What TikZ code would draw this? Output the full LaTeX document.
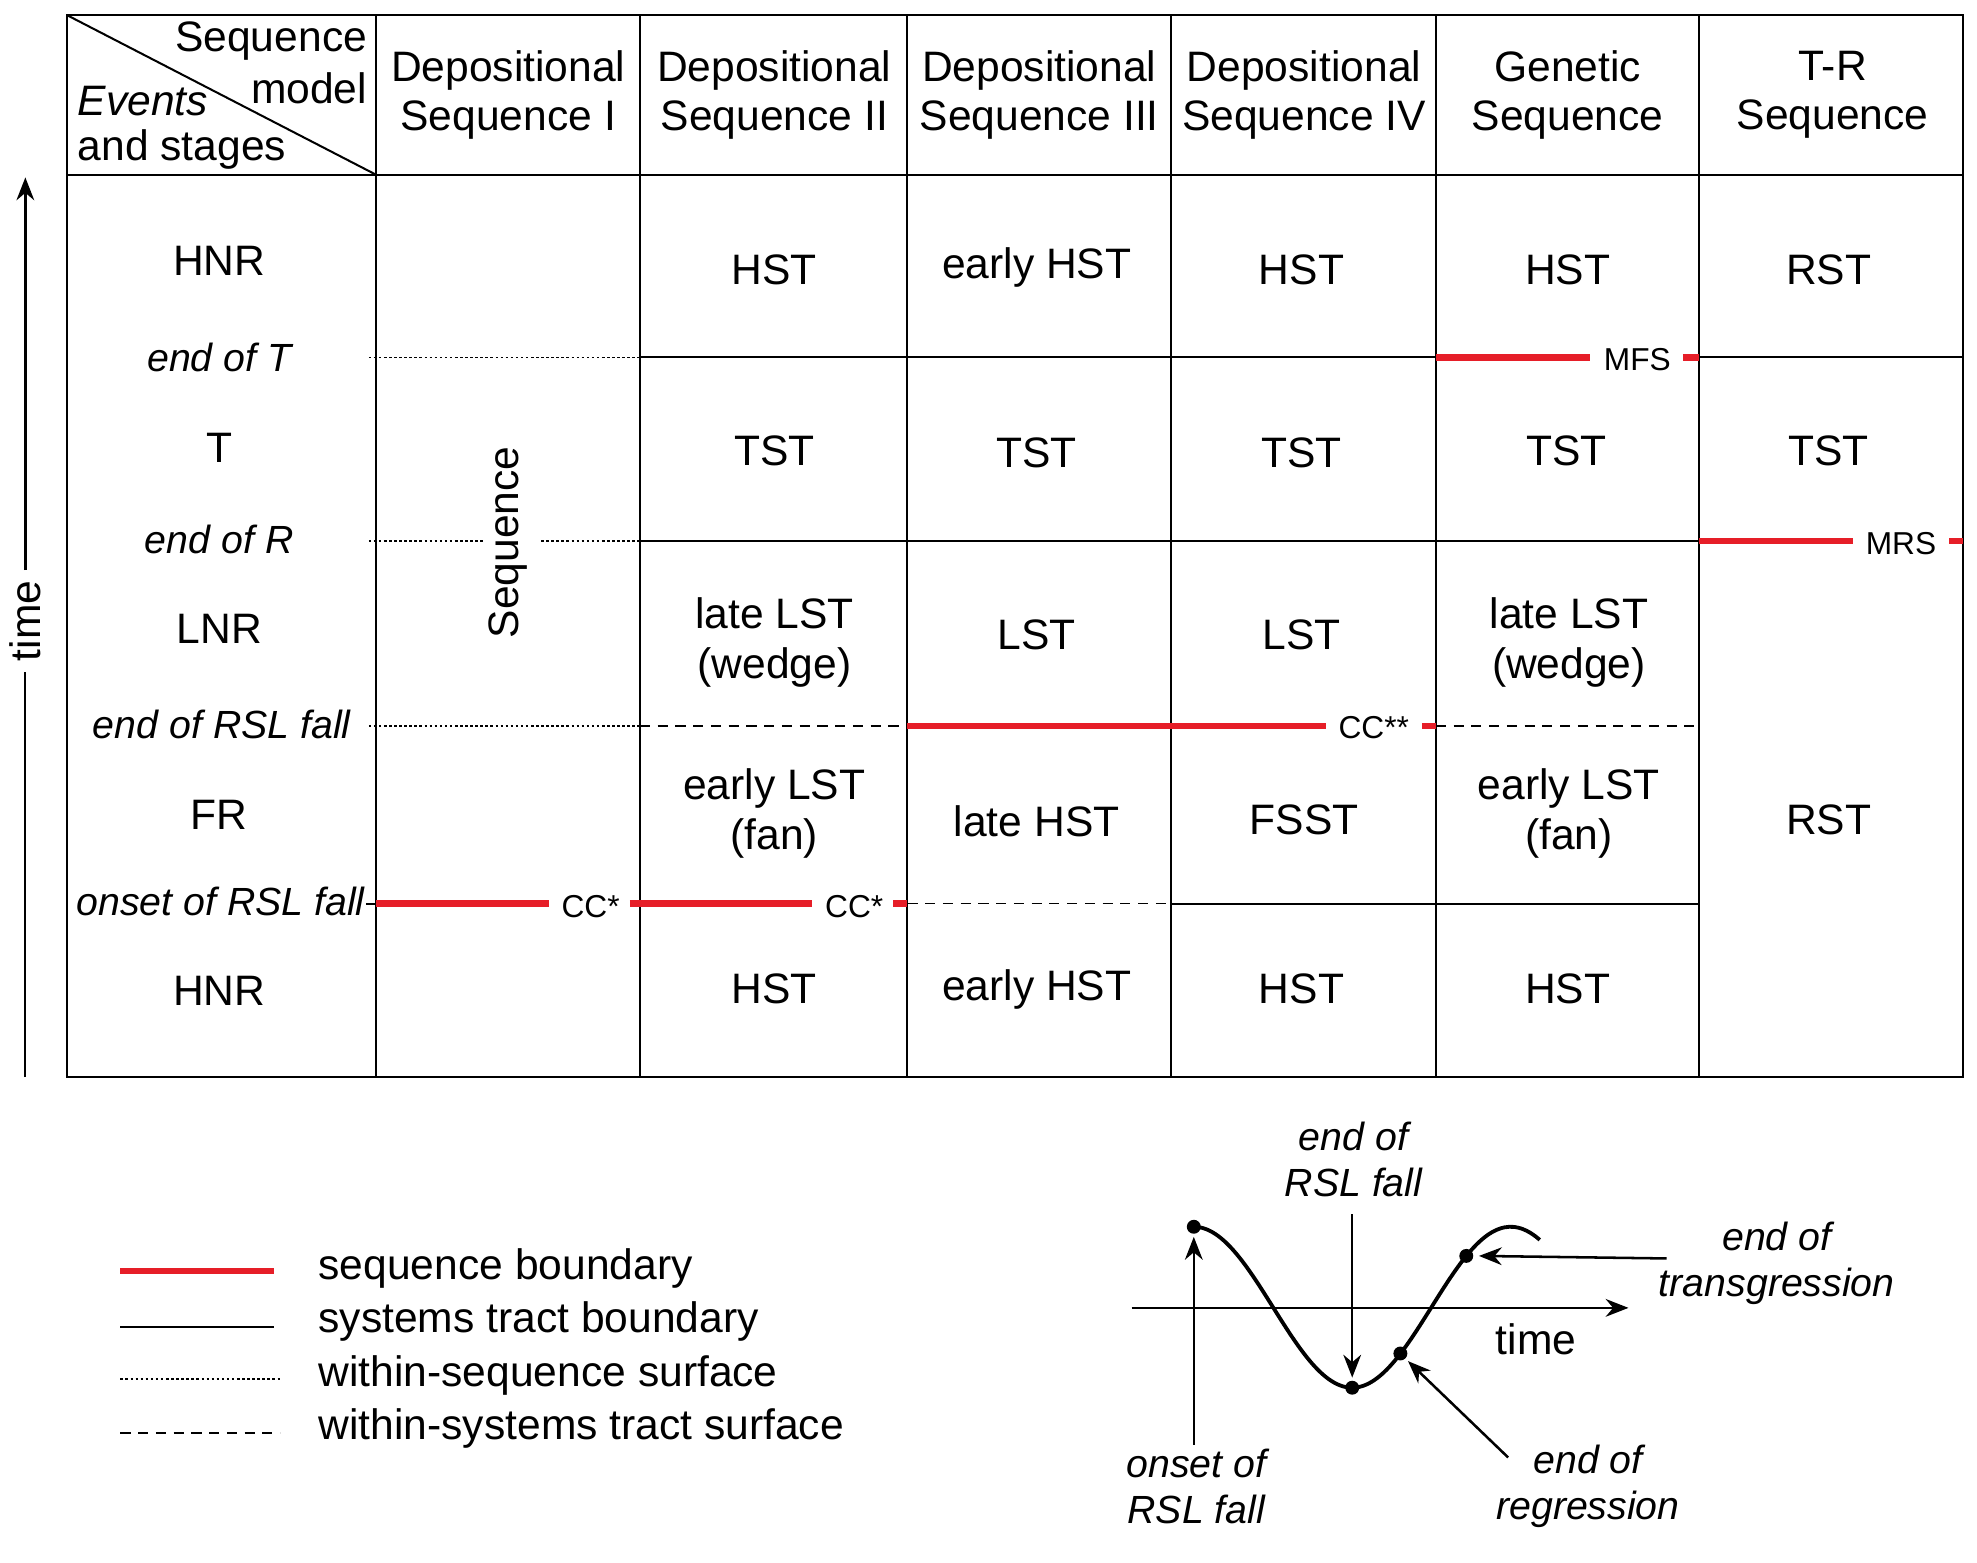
\documentclass[tikz,border=0pt]{standalone}
\usepackage{fontspec}
\setmainfont{Liberation Sans}
\usetikzlibrary{arrows.meta}
\definecolor{sbred}{RGB}{230,30,40}
\begin{document}
\begin{tikzpicture}[x=0.5pt,y=-0.5pt,
  txt/.style={font=\fontsize{16.8}{19.5}\selectfont, align=center, inner sep=0pt},
  itx/.style={font=\fontsize{15.5}{18}\selectfont\itshape, align=center, inner sep=0pt},
  sm/.style={font=\fontsize{12.5}{14}\selectfont, inner sep=0pt},
  redl/.style={sbred, line width=2.5pt},
  thin/.style={line width=0.8pt},
  dotl/.style={line width=0.7pt, dash pattern=on 1pt off 1pt},
  dashl/.style={line width=0.7pt, dash pattern=on 4pt off 3pt},
  arr/.style={line width=1pt, -{Stealth[length=9pt,width=7pt]}}]
\useasboundingbox (0,0) rectangle (1560,1233);
% frame
\draw[thin] (53,12) rectangle (1549,850);
\draw[thin] (53,138) -- (1549,138);
\foreach \x in {297,505,716,924,1133,1341} \draw[thin] (\x,12) -- (\x,850);
\draw[thin] (53,12) -- (297,138);
% header
\node[txt,anchor=east] (hs) at (290,32) {Sequence};
\node[txt,anchor=east] (hm) at (290,70) {model};
\node[txt,anchor=west,font=\fontsize{16.8}{19.5}\selectfont\itshape] (he) at (61,80) {Events};
\node[txt,anchor=west] (ha) at (61,118) {and stages};
\node[txt] (c1) at (401,75) {Depositional\\Sequence I};
\node[txt] (c2) at (611,75) {Depositional\\Sequence II};
\node[txt] (c3) at (820,75) {Depositional\\Sequence III};
\node[txt] (c4) at (1029,75) {Depositional\\Sequence IV};
\node[txt] (c5) at (1237,75) {Genetic\\Sequence};
\node[txt] (c6) at (1446,75) {T-R\\Sequence};
% row labels
\node[txt] (r1) at (173,206) {HNR};
\node[itx] (r2) at (173,282) {end of T};
\node[txt] (r3) at (173,353) {T};
\node[itx] (r4) at (173,426) {end of R};
\node[txt] (r5) at (173,496) {LNR};
\node[itx] (r6) at (175,572) {end of RSL fall};
\node[txt] (r7) at (173,643) {FR};
\node[itx] (r8) at (174,711) {onset of RSL fall};
\node[txt] (r9) at (173,782) {HNR};
% cells
\node[txt,rotate=90] (seq) at (401,428) {Sequence};
\node[txt] at (611,213) {HST};
\node[txt] at (818,211) {early HST};
\node[txt] at (1027,213) {HST};
\node[txt] at (1237,213) {HST};
\node[txt] at (1443,213) {RST};
\node[txt] at (611,356) {TST};
\node[txt] at (818,357) {TST};
\node[txt] at (1027,357) {TST};
\node[txt] at (1236,356) {TST};
\node[txt] at (1443,356) {TST};
\node[txt] at (611,507) {late LST\\(wedge)};
\node[txt] at (818,501) {LST};
\node[txt] at (1027,501) {LST};
\node[txt] at (1238,507) {late LST\\(wedge)};
\node[txt] at (611,642) {early LST\\(fan)};
\node[txt] at (818,648) {late HST};
\node[txt] at (1029,647) {FSST};
\node[txt] at (1238,642) {early LST\\(fan)};
\node[txt] at (1443,647) {RST};
\node[txt] at (611,780) {HST};
\node[txt] at (818,781) {early HST};
\node[txt] at (1027,780) {HST};
\node[txt] at (1237,780) {HST};
% end of T
\draw[dotl] (291,282) -- (505,282);
\draw[thin] (505,282) -- (1133,282);
\draw[redl] (1133,282) -- (1255,282);
\node[sm] (mfs) at (1292,284) {MFS};
\draw[redl] (1328,282) -- (1341,282);
\draw[thin] (1341,282) -- (1549,282);
% end of R
\draw[dotl] (291,427) -- (382,427);
\draw[dotl] (427,427) -- (505,427);
\draw[thin] (505,427) -- (1341,427);
\draw[redl] (1341,427) -- (1462,427);
\node[sm] (mrs) at (1500,429) {MRS};
\draw[redl] (1538,427) -- (1549,427);
% end of RSL fall
\draw[dotl] (291,573) -- (505,573);
\draw[dashl] (505,573) -- (716,573);
\draw[redl] (716,573) -- (1046,573);
\node[sm] (cc2) at (1084,574) {CC**};
\draw[redl] (1122,573) -- (1133,573);
\draw[dashl] (1133,573) -- (1341,573);
% onset
\draw[thin] (289,713) -- (297,713);
\draw[redl] (297,713) -- (433,713);
\node[sm] (cc1) at (466,715) {CC*};
\draw[redl] (497,713) -- (641,713);
\node[sm] (cc1b) at (674,715) {CC*};
\draw[redl] (705,713) -- (716,713);
\draw[dashl] (716,713) -- (924,713);
\draw[thin] (924,713) -- (1341,713);
% time arrow
\node[txt,rotate=90] (tm) at (20,490) {time};
\draw[thin] (20,850) -- ([yshift=-4pt]tm.west);
\draw[arr] ([yshift=4pt]tm.east) -- (20,140);
% legend
\draw[redl] (95,1003) -- (216,1003);
\draw[thin] (95,1047) -- (216,1047);
\draw[dotl] (95,1088) -- (221,1088);
\draw[dashl] (95,1131) -- (221,1131);
\node[txt,anchor=west] (l1) at (251,1001) {sequence boundary};
\node[txt,anchor=west] (l2) at (251,1043) {systems tract boundary};
\node[txt,anchor=west] (l3) at (251,1085) {within-sequence surface};
\node[txt,anchor=west] (l4) at (251,1127) {within-systems tract surface};
% curve
\draw[arr] (893,1032) -- (1285,1032);
\node[txt] (tt) at (1212,1057) {time};
\draw[line width=1.5pt] plot[domain=0:273,samples=80,smooth] ({942+\x},{1031.5-63.5*cos(1.44*\x)});
\coordinate (p1) at (942,968);
\coordinate (p2) at (1067,1095);
\coordinate (p3) at (1105,1068);
\coordinate (p4) at (1157,991);
\foreach \p in {p1,p2,p3,p4} \fill (\p) circle (5.5);
\node[itx] (a1) at (944,1173) {onset of\\RSL fall};
\node[itx] (a2) at (1068,915) {end of\\RSL fall};
\node[itx] (a3) at (1253,1173) {end of\\regression};
\node[itx] (a4) at (1402,997) {end of\\transgression};
\draw[arr] (942,1140) -- ([yshift=-4pt]p1);
\draw[arr] (1067,958) -- ([yshift=4pt]p2);
\draw[arr] (1190,1150) -- ([shift={(3pt,-3pt)}]p3);
\draw[arr] (1315,993) -- ([xshift=5pt]p4);
\end{tikzpicture}
\end{document}
